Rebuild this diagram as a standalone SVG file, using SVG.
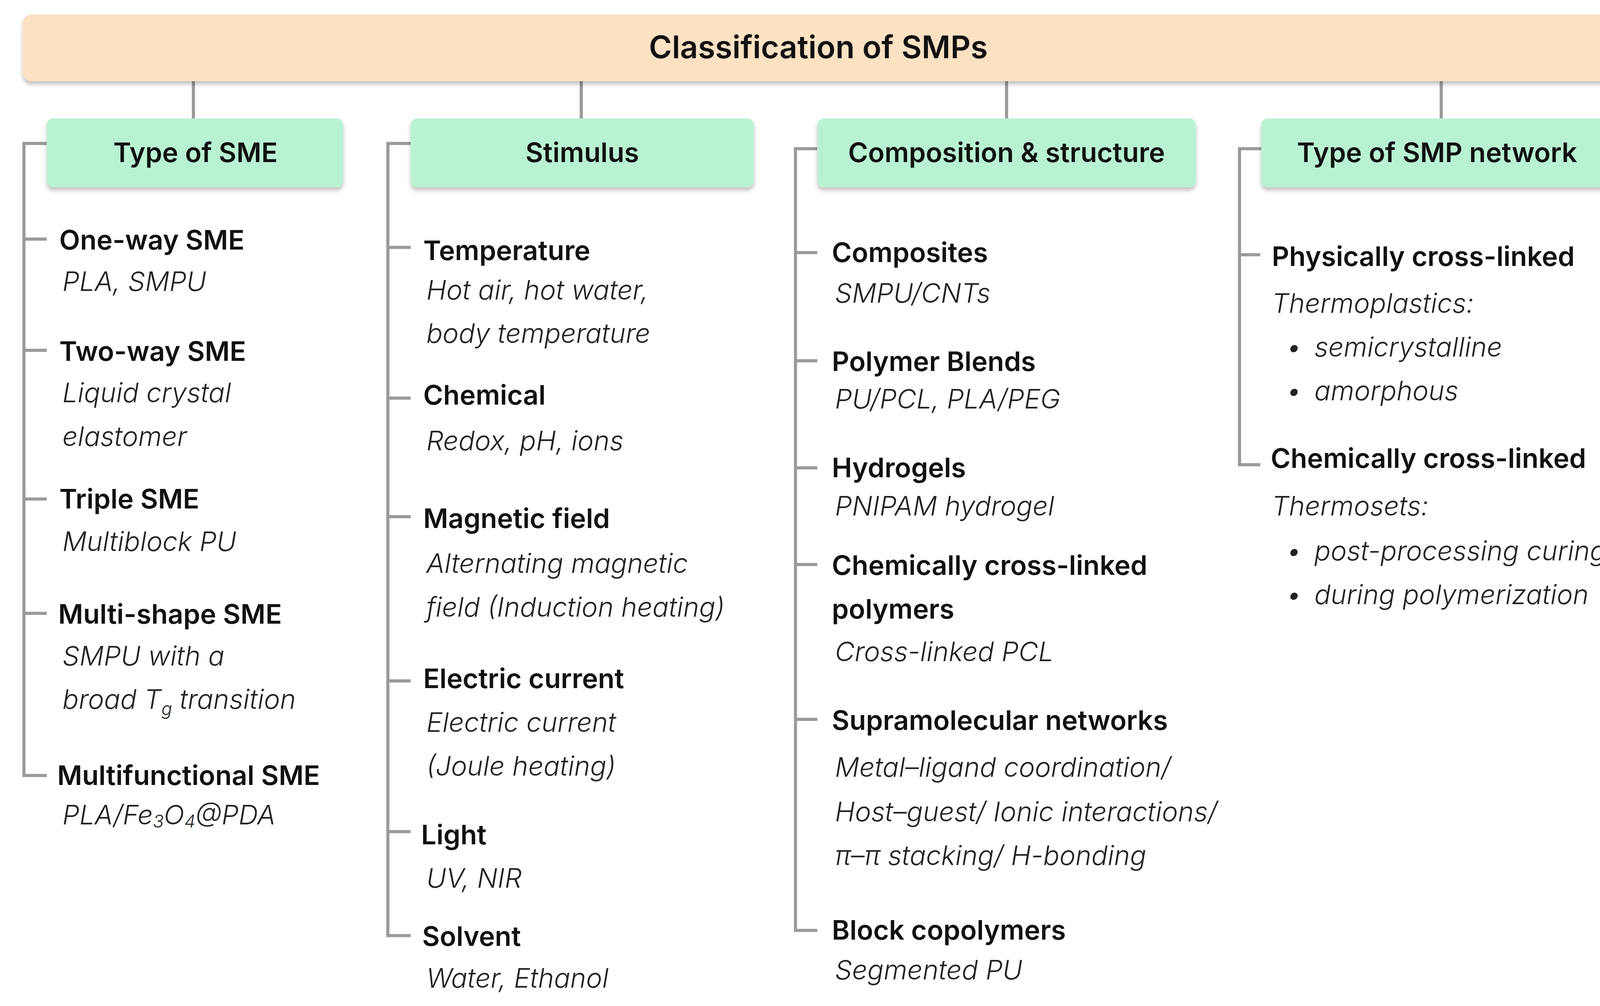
<svg xmlns="http://www.w3.org/2000/svg" width="4174" height="2576" viewBox="0 0 4174 2576">
<defs>
<filter id="sh" x="-5%" y="-20%" width="110%" height="150%"><feDropShadow dx="0" dy="3" stdDeviation="2" flood-color="#000" flood-opacity="0.25"/></filter>
<style>
.t{font-family:Inter,"Noto Sans",sans-serif;fill:#111}
.h{font-size:26px;font-weight:600;text-anchor:middle}
.b{font-size:26px;font-weight:600}
.i{font-size:26px;font-style:italic;font-weight:300;fill:#222}
.ln{stroke:#9a9a9a;stroke-width:3;fill:none}
.hd{fill:#b9f2d3}
</style>
</defs>
<rect width="4174" height="2576" fill="#fff"/>
<g transform="scale(2.662)">
<g id="connectors">
<path class="ln" d="M186 78V114M559 78V114M968 78V114M1386 78V114"/>
<path class="ln" d="M45 138H23V746H45M23 230H45M23 337H45M23 480H45M23 590H45"/>
<path class="ln" d="M395 138H373V900H395M373 238H395M373 383H395M373 497H395M373 655H395M373 800H395"/>
<path class="ln" d="M786 143H765V895H786M765 243H786M765 347H786M765 450H786M765 543H786M765 692H786"/>
<path class="ln" d="M1213 143H1192V447H1212M1192 245H1212"/>
</g>
<g id="root"><rect x="22" y="14" width="1530" height="64" rx="8" fill="#fde1c3" filter="url(#sh)"/><text class="t" x="787" y="56" font-size="30" font-weight="600" text-anchor="middle">Classification of SMPs</text></g>
<g id="h1"><rect class="hd" x="45" y="114" width="285" height="66" rx="6" filter="url(#sh)"/><text class="t h" x="188" y="156">Type of SME</text></g>
<g id="h2"><rect class="hd" x="395" y="114" width="330" height="66" rx="6" filter="url(#sh)"/><text class="t h" x="560" y="156">Stimulus</text></g>
<g id="h3"><rect class="hd" x="786" y="114" width="364" height="66" rx="6" filter="url(#sh)"/><text class="t h" x="968" y="156">Composition &amp; structure</text></g>
<g id="h4"><rect class="hd" x="1213" y="114" width="339" height="66" rx="6" filter="url(#sh)"/><text class="t h" x="1382" y="156">Type of SMP network</text></g>
<g id="c1">
<text class="t b" x="57" y="240">One-way SME</text><text class="t i" x="60" y="280">PLA, SMPU</text>
<text class="t b" x="57" y="347">Two-way SME</text><text class="t i" x="60" y="387">Liquid crystal</text><text class="t i" x="60" y="429">elastomer</text>
<text class="t b" x="57" y="489">Triple SME</text><text class="t i" x="60" y="530">Multiblock PU</text>
<text class="t b" x="56" y="600">Multi-shape SME</text><text class="t i" x="60" y="640">SMPU with a</text><text class="t i" x="60" y="682">broad T<tspan font-size="17" dy="6">g</tspan><tspan dy="-6"> transition</tspan></text>
<text class="t b" x="55" y="755">Multifunctional SME</text><text class="t i" x="60" y="793">PLA/Fe<tspan font-size="17" dy="3">3</tspan><tspan dy="-3">O</tspan><tspan font-size="17" dy="3">4</tspan><tspan dy="-3">@PDA</tspan></text>
</g>
<g id="c2">
<text class="t b" x="407" y="250">Temperature</text><text class="t i" x="410" y="288">Hot air, hot water,</text><text class="t i" x="410" y="330">body temperature</text>
<text class="t b" x="407" y="389">Chemical</text><text class="t i" x="410" y="433">Redox, pH, ions</text>
<text class="t b" x="407" y="508">Magnetic field</text><text class="t i" x="410" y="551">Alternating magnetic</text><text class="t i" x="410" y="593">field (Induction heating)</text>
<text class="t b" x="407" y="662">Electric current</text><text class="t i" x="410" y="704">Electric current</text><text class="t i" x="410" y="746">(Joule heating)</text>
<text class="t b" x="405" y="812">Light</text><text class="t i" x="410" y="854">UV, NIR</text>
<text class="t b" x="406" y="910">Solvent</text><text class="t i" x="410" y="950">Water, Ethanol</text>
</g>
<g id="c3">
<text class="t b" x="800" y="252">Composites</text><text class="t i" x="803" y="291">SMPU/CNTs</text>
<text class="t b" x="800" y="357">Polymer Blends</text><text class="t i" x="803" y="393">PU/PCL, PLA/PEG</text>
<text class="t b" x="800" y="459">Hydrogels</text><text class="t i" x="803" y="496">PNIPAM hydrogel</text>
<text class="t b" x="800" y="553">Chemically cross-linked</text><text class="t b" x="800" y="595">polymers</text><text class="t i" x="803" y="636">Cross-linked PCL</text>
<text class="t b" x="800" y="702">Supramolecular networks</text><text class="t i" x="803" y="747">Metal–ligand coordination/</text><text class="t i" x="803" y="790">Host–guest/ Ionic interactions/</text><text class="t i" x="803" y="832">π–π stacking/ H-bonding</text>
<text class="t b" x="800" y="904">Block copolymers</text><text class="t i" x="803" y="942">Segmented PU</text>
</g>
<g id="c4">
<text class="t b" x="1223" y="256">Physically cross-linked</text><text class="t i" x="1223" y="301">Thermoplastics:</text>
<text class="t i" x="1237" y="343">•</text><text class="t i" x="1264" y="343">semicrystalline</text>
<text class="t i" x="1237" y="385">•</text><text class="t i" x="1264" y="385">amorphous</text>
<text class="t b" x="1222" y="450">Chemically cross-linked</text><text class="t i" x="1223" y="496">Thermosets:</text>
<text class="t i" x="1237" y="539">•</text><text class="t i" x="1264" y="539">post-processing curing</text>
<text class="t i" x="1237" y="581">•</text><text class="t i" x="1264" y="581">during polymerization</text>
</g>
</g>
</svg>
